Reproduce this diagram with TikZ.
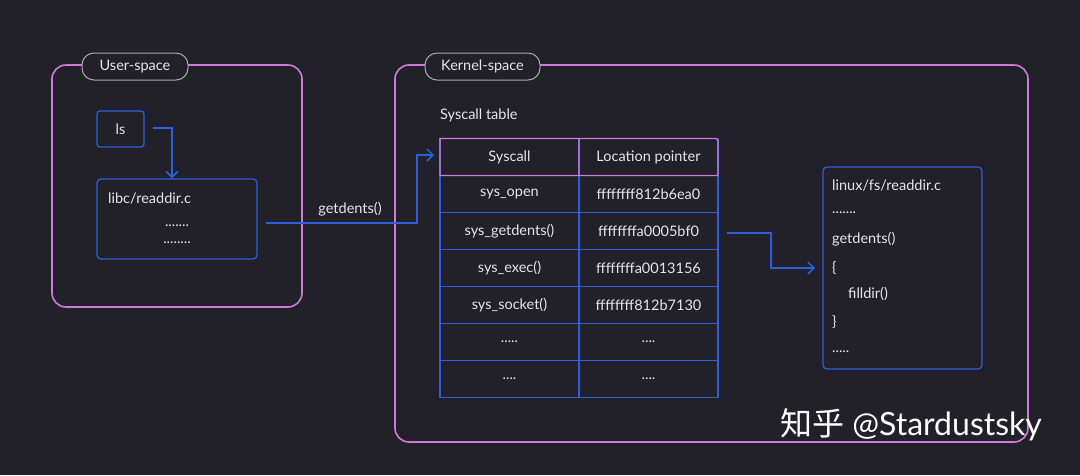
\documentclass[tikz,border=0pt]{standalone}
\usetikzlibrary{arrows.meta}
\usepackage{fontspec}
\setmainfont{Lato}
\newfontfamily\cjk{Noto Sans CJK SC}
\definecolor{bg}{HTML}{222129}
\definecolor{pk}{HTML}{D07ADB}
\definecolor{bl}{HTML}{2B5FDD}
\definecolor{tx}{HTML}{E6E6EA}
\definecolor{gr}{HTML}{A8A8AE}
\begin{document}
\begin{tikzpicture}[x=1pt,y=-1pt,
  txt/.style={text=tx,font=\fontsize{14.5}{16}\selectfont,inner sep=0},
  pill/.style={draw=gr,line width=1pt,fill=bg,rounded corners=12pt,text=tx,font=\fontsize{14.5}{16}\selectfont,minimum height=27pt,inner xsep=10pt},
  cell/.style={draw=bl,line width=1.2pt,minimum width=139pt,minimum height=37pt,text=tx,font=\fontsize{14.5}{16}\selectfont,inner sep=0},
  arr/.style={draw=bl,line width=1.5pt,->,>={Straight Barb[length=6pt,width=12pt]}}]
\useasboundingbox[fill=bg] (0,0) rectangle (1080,475);
\begin{scope}[line width=1.6pt]
\draw[pk,rounded corners=14pt] (52,65) rectangle (302,307);
\draw[pk,rounded corners=14pt] (395,65) rectangle (1028,442);
\end{scope}
\node[pill,minimum width=106pt] (up) at (135,66.5) {User-space};
\node[pill,minimum width=115pt] (kp) at (482.5,66.5) {Kernel-space};
\node[draw=bl,line width=1.3pt,rounded corners=3pt,minimum width=47pt,minimum height=36pt,txt] (ls) at (120.5,129) {ls};
\node[draw=bl,line width=1.3pt,rounded corners=4pt,minimum width=160pt,minimum height=80pt] (libc) at (177,219) {};
\node[txt,anchor=west] (lt) at (108,198) {libc/readdir.c};
\node[txt] (ld1) at (177,226) {.......};
\node[txt] (ld2) at (177,243) {........};
\coordinate (ls1) at (153,128);
\draw[arr] (ls1) -| (libc.north -| 172,0) ;
\node[txt,anchor=west] (st) at (440,115) {Syscall table};
% table
\foreach \r/\a/\b in {0/Syscall/Location pointer,1/sys\_open/ffffffff812b6ea0,2/sys\_getdents()/ffffffffa0005bf0,3/sys\_exec()/ffffffffa0013156,4/sys\_socket()/ffffffff812b7130,5/{.....}/{....},6/{....}/{....}}{
  \node[cell] (a\r) at (509.5,{157+37*\r}) {\a};
  \node[cell] (b\r) at (648.5,{157+37*\r}) {\b};
}
\draw[pk,line width=1.3pt] (440,175.5) -- (440,138.5) -- (579,138.5) -- (579,175.5) (579,138.5) -- (716,138.5) -- (718,140.5) -- (718,175.5) -- (440,175.5);
\node[draw=bl,line width=1.3pt,rounded corners=4pt,minimum width=159pt,minimum height=202pt] (rb) at (902.5,268) {};
\foreach \t/\y/\x [count=\i] in {{linux/fs/readdir.c}/185/832,{.......}/213/832,{getdents()}/239/832,{\{}/268/832,{filldir()}/294/848,{\}}/322/832,{.....}/352/832}{
  \node[txt,anchor=west] (r\i) at (\x,\y) {\t};
}
\coordinate (g0) at (266,223);
\coordinate (g1) at (434,155);
\draw[arr] (g0) -- (417,223) -- (417,155) -- (g1);
\node[txt] (gl) at (350,209) {getdents()};
\coordinate (h0) at (727,233);
\draw[arr] (h0) -- (771,233) -- (771,268) -- (815,268);
\node[text=white,font=\fontsize{32}{36}\selectfont,inner sep=0] (wm) at (911,425) {{\cjk 知乎} @Stardustsky};
\end{tikzpicture}
\end{document}
